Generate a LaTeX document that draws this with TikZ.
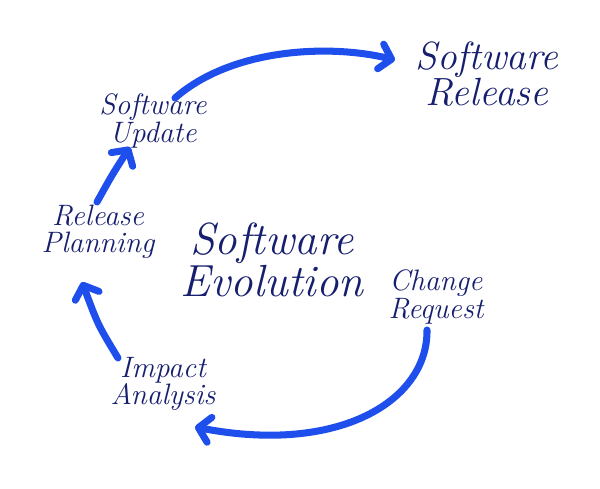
\documentclass[tikz,border=0pt]{standalone}
\usepackage{fontspec}
\usetikzlibrary{arrows.meta}
\definecolor{navy}{RGB}{22,30,110}
\definecolor{flowblue}{RGB}{30,78,235}

\begin{document}
\begin{tikzpicture}
        [x=0.025cm,y=-0.025cm,
         every node/.style={text=navy,align=center,inner sep=0,font=\fontsize{21}{19.5}\selectfont\itshape},
         big/.style={font=\fontsize{28}{24}\selectfont\itshape},
         huge/.style={font=\fontsize{32}{29.5}\selectfont\itshape},
         flow/.style={draw=flowblue,line width=5pt,line cap=round,-{Straight Barb[length=8pt,width=18pt,round]}}]

        \useasboundingbox (0,0) rectangle (600,488);

        \node[big] (rel) at (487,74) {Software\\Release};
        \node (upd) at (153,121) {Software\\Update};
        \node (plan) at (98,232) {Release\\Planning};
        \node[huge] (evo) at (272,260) {Software\\Evolution};
        \node (chg) at (436,297) {Change\\Request};
        \node (imp) at (163,384) {Impact\\Analysis};

        \draw[flow] ([shift={(22,-23)}]upd.center) .. controls (232,48) and (330,44) .. ([shift={(-92,-14)}]rel.center);
        \draw[flow] ([shift={(-1,-30)}]plan.center) .. controls (112,175) .. ([shift={(-23,26)}]upd.center);
        \draw[flow] ([shift={(-45,-26)}]imp.center) .. controls (98,325) .. ([shift={(-16,50)}]plan.center);
        \draw[flow] ([shift={(-9,33)}]chg.center) .. controls (428,400) and (340,455) .. ([shift={(32,43)}]imp.center);
      \end{tikzpicture}
\end{document}
